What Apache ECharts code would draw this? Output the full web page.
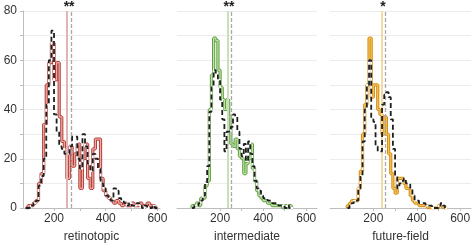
<!DOCTYPE html>
<html>
<head>
<meta charset="utf-8">
<script src="https://cdn.jsdelivr.net/npm/echarts@6/dist/echarts.min.js"></script>
<style>
html,body{margin:0;padding:0;background:#fff;}
#chart{width:474px;height:248px;}
</style>
</head>
<body>
<div id="chart"></div>
<script>
// ---- data ----
const binWidth = 10;
const panelNames = ['retinotopic', 'intermediate', 'future-field'];
const xTickLabels = [200, 400, 600];
const yTickLabels = [0, 20, 40, 60, 80];

// panel 1 (retinotopic), bins start at 90
const retStart = 90;
const retCounts = [0,1,1,2,3,10,14,34,50,59,67,52,59,37,27,24,12,25,17,22,26,8,20,26,12,8,24,28,28,12,7,5,4,3,2,3,2,1,2,1,1,2,1,1,2,1,1,2,1,1,0];
const retDash   = [0,0,1,2,3,9,13,20,42,60,72,38,31,25,24,22,22,25,29,29,20,16,30,25,18,15,22,20,16,10,8,5,4,3,8,7,4,3,2,1,2,1,1,2,1,0,1,0,0,1,0];

// panel 2 (intermediate), bins start at 70
const intStart = 70;
const intCounts = [1,1,2,1,4,4,9,11,40,54,69,68,56,49,44,40,44,37,26,25,28,24,21,20,14,18,20,26,16,11,7,5,4,3,3,2,2,1,1,1,1,1,0,1,0,1,0];
const intDash   = [0,1,1,2,3,5,10,17,39,49,56,54,52,44,36,23,31,31,33,38,37,31,24,21,26,19,27,22,17,11,8,7,5,4,4,3,3,2,2,2,1,1,1,0,1,0,0];

// panel 3 (future-field), bins start at 80
const ffStart = 80;
const ffCounts = [1,2,3,3,3,8,15,30,42,50,69,45,50,50,40,38,30,37,30,22,14,8,6,12,12,12,10,8,8,5,3,2,2,1,1,1,1,0,0,0,0,0,1,1,0,0];
const ffDash   = [0,1,2,3,3,8,13,27,40,50,60,36,35,25,23,23,42,46,47,45,36,24,13,8,10,11,12,10,10,8,5,3,3,2,2,2,1,1,1,0,0,0,1,2,1,0];

// mean lines [solid (colored), dashed (control)] and significance
const meanSolid = [251, 237, 240];
const meanDashed = [266, 251, 254];
const signif = ['**', '**', '*'];

// ---- styles ----
const darkCol = ['#b5403a', '#5f9f3f', '#d58d14'];
const lightCol = ['#f0aaa5', '#bfe3a8', '#f6c457'];
const meanCol = ['#e3b4b2', '#c9e0ba', '#f3d9a2'];
const font = 'Liberation Sans, Arial, sans-serif';

const grids = [
  {left: 23, top: 11, width: 137, height: 199},
  {left: 177, top: 11, width: 140, height: 199},
  {left: 330, top: 11, width: 141, height: 199}
];
const xRanges = [[80, 610], [0, 650], [0, 650]];

function toSteps(start, counts) {
  const pts = [[start, 0]];
  counts.forEach((c, i) => pts.push([start + i * binWidth, c]));
  pts.push([start + counts.length * binWidth, 0]);
  return pts;
}

const starts = [retStart, intStart, ffStart];
const solids = [retCounts, intCounts, ffCounts];
const dashes = [retDash, intDash, ffDash];

const xAxes = [], yAxes = [], series = [];
for (let p = 0; p < 3; p++) {
  xAxes.push({
    gridIndex: p, type: 'value', min: xRanges[p][0], max: xRanges[p][1],
    name: panelNames[p], nameLocation: 'middle', nameGap: 23,
    nameTextStyle: {fontFamily: font, fontSize: 12, color: '#333'},
    axisLine: {show: true, lineStyle: {color: '#bdbdbd', width: 1}},
    axisTick: {show: true, length: 3, customValues: [200, 300, 400, 500, 600], lineStyle: {color: '#bdbdbd'}},
    axisLabel: {show: true, customValues: xTickLabels, margin: 5, fontFamily: font, fontSize: 12, color: '#333'},
    splitLine: {show: false}
  });
  yAxes.push({
    gridIndex: p, type: 'value', min: 0, max: 80, interval: 20,
    axisLine: {show: p === 0, lineStyle: {color: '#bdbdbd', width: 1}},
    axisTick: {show: p === 0, inside: false, length: 3, customValues: [0,10,20,30,40,50,60,70,80], lineStyle: {color: '#bdbdbd'}},
    axisLabel: {show: p === 0, customValues: yTickLabels, margin: 6, fontFamily: font, fontSize: 12, color: '#333'},
    splitLine: {show: true, lineStyle: {color: '#ececec', width: 1}}
  });
  const sData = toSteps(starts[p], solids[p]);
  const dData = toSteps(starts[p], dashes[p]);
  series.push({
    type: 'line', xAxisIndex: p, yAxisIndex: p, step: 'end', data: sData,
    symbol: 'none', lineStyle: {color: darkCol[p], width: 3.2}, z: 2,
    markLine: {
      silent: true, symbol: ['none', 'none'], animation: false,
      data: [
        {xAxis: meanSolid[p], lineStyle: {color: meanCol[p], type: 'solid', width: 2}, label: {show: false}},
        {xAxis: meanDashed[p], lineStyle: {color: '#a9a9a9', type: [4, 2], width: 1.3},
         label: {show: true, position: 'end', formatter: signif[p], distance: 0, offset: [-2, 3],
                 fontFamily: font, fontSize: 14, fontWeight: 'bold', color: '#222'}}
      ]
    }
  });
  series.push({
    type: 'line', xAxisIndex: p, yAxisIndex: p, step: 'end', data: sData,
    symbol: 'none', lineStyle: {color: lightCol[p], width: 1.2}, z: 3
  });
  series.push({
    type: 'line', xAxisIndex: p, yAxisIndex: p, step: 'end', data: dData,
    symbol: 'none', lineStyle: {color: '#ffffff', width: 1.8}, z: 4
  });
  series.push({
    type: 'line', xAxisIndex: p, yAxisIndex: p, step: 'end', data: dData,
    symbol: 'none', lineStyle: {color: '#1f1f1f', width: 1.8, type: [5, 3]}, z: 5
  });
}

const chart = echarts.init(document.getElementById('chart'), null, {renderer: 'canvas'});
chart.setOption({
  animation: false,
  backgroundColor: '#ffffff',
  grid: grids,
  xAxis: xAxes,
  yAxis: yAxes,
  series: series
});
</script>
</body>
</html>
